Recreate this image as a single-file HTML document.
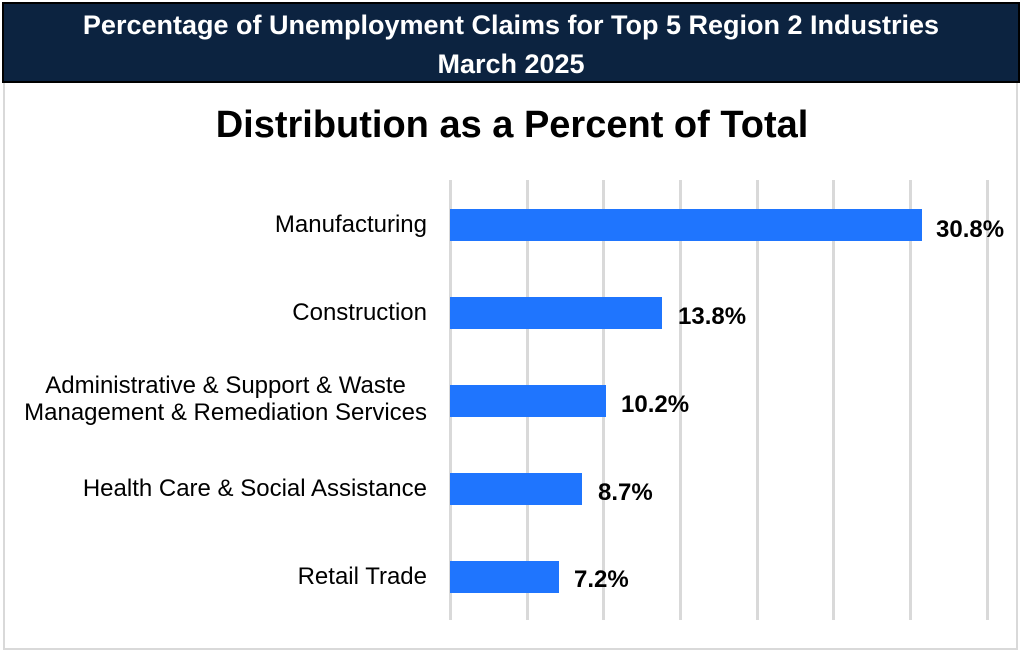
<!DOCTYPE html>
<html><head><style>
body{margin:0;width:1024px;height:657px;background:#fff;position:relative;overflow:hidden;font-family:"Liberation Sans",Arial,sans-serif}
.box{position:absolute;left:3px;top:80px;width:1011px;height:568px;border:2px solid #d9d9d9;border-top:none}
.hdr{position:absolute;left:2px;top:2px;background:#0c2340;border:2px solid #000;color:#fff;font-weight:bold;font-size:27px;text-align:center;line-height:39px;padding-top:2px;box-sizing:border-box;height:81px;width:1018px}
.t{position:absolute;left:0;width:1024px;top:104px;text-align:center;font-weight:bold;font-size:38px}
.g{position:absolute;top:180px;height:440px;width:3px;background:#d9d9d9}
.b{position:absolute;left:450px;height:32px;background:#1f75fe}
.v{position:absolute;font-weight:bold;font-size:24px}
.l{position:absolute;right:597px;text-align:center;font-size:24px;line-height:27px;white-space:nowrap}
</style></head><body>
<div class="box"></div>
<div class="hdr">Percentage of Unemployment Claims for Top 5 Region 2 Industries<br>March 2025</div>
<div class="t">Distribution as a Percent of Total</div>
<div class="g" style="left:449px"></div><div class="g" style="left:526px"></div><div class="g" style="left:602px"></div><div class="g" style="left:679px"></div><div class="g" style="left:756px"></div><div class="g" style="left:832px"></div><div class="g" style="left:909px"></div><div class="g" style="left:986px"></div>
<div class="b" style="top:209px;width:472px"></div>
<div class="b" style="top:297px;width:212px"></div>
<div class="b" style="top:385px;width:156px"></div>
<div class="b" style="top:473px;width:132px"></div>
<div class="b" style="top:561px;width:109px"></div>
<div class="v" style="left:936px;top:216px">30.8%</div>
<div class="v" style="left:678px;top:303px">13.8%</div>
<div class="v" style="left:621px;top:391px">10.2%</div>
<div class="v" style="left:598px;top:479px">8.7%</div>
<div class="v" style="left:574px;top:566px">7.2%</div>
<div class="l" style="top:211px">Manufacturing</div>
<div class="l" style="top:299px">Construction</div>
<div class="l" style="top:372px">Administrative &amp; Support &amp; Waste<br>Management &amp; Remediation Services</div>
<div class="l" style="top:475px">Health Care &amp; Social Assistance</div>
<div class="l" style="top:563px">Retail Trade</div>
</body></html>
